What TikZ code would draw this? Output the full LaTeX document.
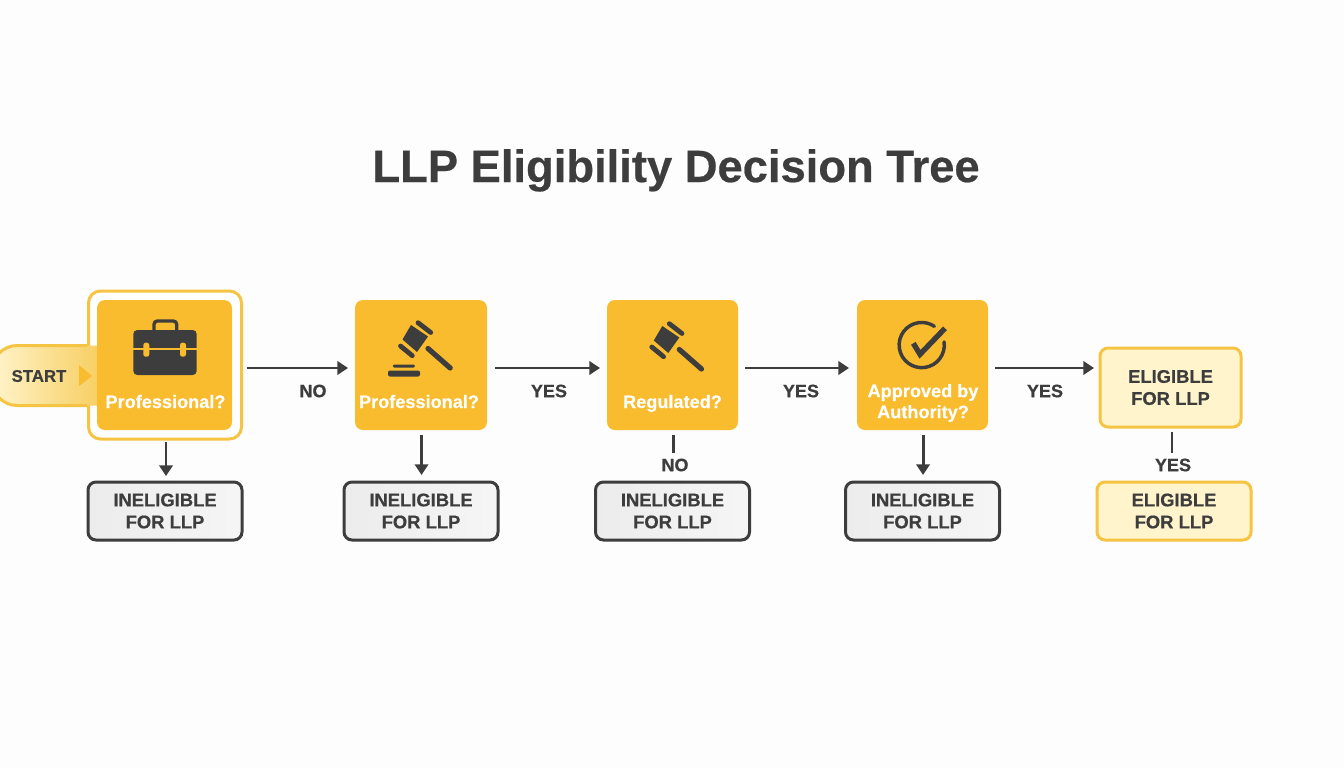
\documentclass[tikz,border=0pt]{standalone}
\usepackage{fontspec}
\setmainfont{Liberation Sans}[BoldFeatures={FakeBold=0.5}]
\usetikzlibrary{arrows.meta}
\definecolor{ink}{HTML}{3D3D3D}
\definecolor{gold}{HTML}{F9BC2E}
\definecolor{goldline}{HTML}{F5C443}
\definecolor{cream}{HTML}{FFF4CC}
\definecolor{pale}{HTML}{ECECEC}
\definecolor{bg}{HTML}{FDFDFD}
\tikzset{
  x=0.75pt,y=-0.75pt,
  box/.style n args={2}{inner sep=0pt,outer sep=0pt,minimum width=#1*0.75pt,minimum height=#2*0.75pt,rounded corners=6pt,align=center},
  cardbox/.style={box={#1}{130},fill=gold},
  framebox/.style={box={153}{148},draw=goldline,line width=2.25pt,fill=white,rounded corners=9pt},
  badbox/.style={box={154}{58},draw=ink,line width=2.25pt,left color=pale,right color=pale!50!white,font=\fontsize{13.8}{16.5}\selectfont\bfseries,text=ink},
  goodbox/.style n args={2}{box={#1}{#2},draw=goldline,line width=2.25pt,fill=cream,font=\fontsize{13.8}{16.5}\selectfont\bfseries,text=ink},
  cardtext/.style={inner sep=0pt,align=center,text=white,font=\fontsize{13.6}{15.75}\selectfont\bfseries},
  tag/.style={inner sep=0pt,text=ink,font=\fontsize{13.5}{16}\selectfont\bfseries},
  arr/.style={draw=ink,line width=2.2pt,-{Triangle[length=8pt,width=10pt]}},
  stub/.style={draw=ink,line width=2.2pt},
  iconline/.style={draw=ink,line cap=round}
}
\newcommand{\gavelhead}{%
  \fill[ink] (411,325)--(428,336.5)--(417,352)--(402.5,339.5)--cycle;
  \draw[iconline,line width=3.6pt] (418,322.7)--(430.7,332.5);
  \draw[iconline,line width=3.6pt] (400.5,346)--(412.3,355.7);
  \draw[iconline,line width=3.9pt] (428,348.5)--(450.2,368);
}
\begin{document}
\begin{tikzpicture}
\useasboundingbox (0,0) rectangle (1344,768);
\fill[bg] (0,0) rectangle (1344,768);

\node[inner sep=0pt,anchor=base,text=ink,font=\fontsize{34}{38}\selectfont\bfseries] (title) at (676,182) {LLP Eligibility Decision Tree};

% first card with frame and start tab
\node[framebox] (frame) at (165,365) {};
\shade[left color=cream,right color=goldline,rounded corners=19pt] (-8,345.5) rectangle (130,405.5);
\draw[goldline,line width=2.25pt,rounded corners=19pt] (87,345.5) -- (-8,345.5) -- (-8,405.5) -- (87,405.5);
\node[cardbox=135] (card1) at (164.5,365) {};
\node[tag,font=\fontsize{12.6}{15}\selectfont\bfseries] (start) at (39,376) {START};
\fill[gold] (79,365) -- (92,376) -- (79,386) -- cycle;

\node[cardbox=132] (card2) at (421,365) {};
\node[cardbox=131] (card3) at (672.5,365) {};
\node[cardbox=131] (card4) at (922.5,365) {};
\node[goodbox={141}{79}] (good1) at (1170.5,387.5) {ELIGIBLE\\FOR LLP};

\node[badbox] (bad1) at (165,511) {INELIGIBLE\\FOR LLP};
\node[badbox] (bad2) at (421,511) {INELIGIBLE\\FOR LLP};
\node[badbox] (bad3) at (672.5,511) {INELIGIBLE\\FOR LLP};
\node[badbox] (bad4) at (922.5,511) {INELIGIBLE\\FOR LLP};
\node[goodbox={154}{58}] (good2) at (1174,511) {ELIGIBLE\\FOR LLP};

% card captions
\node[cardtext,anchor=base] (q1) at (165.5,408) {Professional?};
\node[cardtext,anchor=base] (q2) at (419,408) {Professional?};
\node[cardtext,anchor=base] (q3) at (672.5,408) {Regulated?};
\node[cardtext] (q4) at (923,403) {Approved by\\Authority?};

% horizontal connectors
\draw[arr,shorten <=3.75pt,shorten >=5.25pt] ([yshift=-2.25pt]frame.east) -- ([yshift=-2.25pt]card2.west);
\draw[arr,shorten <=6pt,shorten >=5.25pt] ([yshift=-2.25pt]card2.east) -- ([yshift=-2.25pt]card3.west);
\draw[arr,shorten <=5.25pt,shorten >=6pt] ([yshift=-2.25pt]card3.east) -- ([yshift=-2.25pt]card4.west);
\draw[arr,shorten <=5.25pt,shorten >=4.5pt] ([yshift=-2.25pt]card4.east) -- ([yshift=-2.25pt]card4.east -| good1.west);

% vertical connectors
\draw[arr,shorten <=2.25pt,shorten >=4.5pt] ([xshift=.75pt]frame.south) -- ([xshift=.75pt]bad1.north);
\draw[arr,shorten <=3.75pt,shorten >=5.25pt] ([xshift=.4pt]card2.south) -- ([xshift=.4pt]bad2.north);
\draw[arr,shorten <=3.75pt,shorten >=5.25pt] ([xshift=.4pt]card4.south) -- ([xshift=.4pt]bad4.north);

% labels
\node[tag] (no1) at (313,391) {NO};
\node[tag] (yes1) at (549,391) {YES};
\node[tag] (yes2) at (801,391) {YES};
\node[tag] (yes3) at (1045,391) {YES};
\node[tag] (no2) at (675,465) {NO};
\node[tag] (yes4) at (1173,465) {YES};
\draw[stub,shorten <=3.75pt,shorten >=3.75pt] ([xshift=.4pt]card3.south) -- ([xshift=.4pt]card3.south |- no2.north);
\draw[stub,shorten <=3.75pt,shorten >=3.75pt] ([xshift=1.1pt]good1.south) -- ([xshift=1.1pt]good1.south |- yes4.north);

% briefcase
\fill[ink,rounded corners=3pt] (133.3,330) rectangle (196.7,375);
\draw[ink,line width=2.5pt,rounded corners=2.5pt] (154,330) -- (154,321) -- (176.7,321) -- (176.7,330);
\draw[gold,line width=1.75pt] (133.3,349.3) -- (196.7,349.3);
\fill[gold,rounded corners=1.8pt] (143.3,342.7) rectangle (149.3,356.7);
\fill[gold,rounded corners=1.8pt] (180,342.7) rectangle (186,356.7);

% gavel with base
\gavelhead
\fill[ink,rounded corners=1.1pt] (392.7,364.5) rectangle (415,367.5);
\fill[ink,rounded corners=1.5pt] (388,370.5) rectangle (420,376.5);

% gavel
\begin{scope}[shift={(251.3,1)}]
\gavelhead
\end{scope}

% check mark
\draw[iconline,line width=2.6pt] (944.1,341.9) arc[start angle=-8,end angle=304,radius=22.6];
\draw[draw=ink,line width=4pt,line join=miter] (913.3,343.3) -- (920,354.3) -- (945,328.3);
\end{tikzpicture}
\end{document}
